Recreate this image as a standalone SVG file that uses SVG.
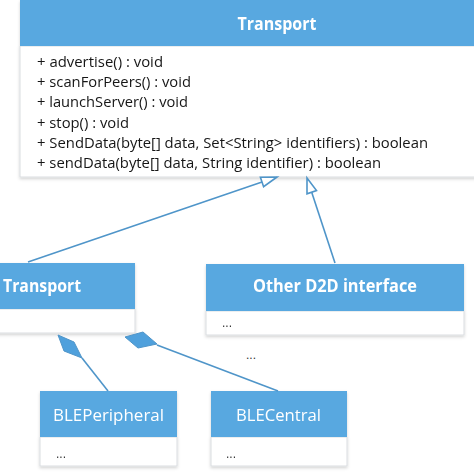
<svg xmlns="http://www.w3.org/2000/svg" width="474" height="474" viewBox="0 0 474 474">
<defs>
<filter id="sh" x="-5%" y="-5%" width="110%" height="115%">
<feDropShadow dx="0" dy="1.5" stdDeviation="1.5" flood-color="#000" flood-opacity="0.18"/>
</filter>
</defs>
<style>
.hdr{fill:#58A8E0}
.body{fill:#fff;stroke:#DADDE0;stroke-width:1}
.ttl{font-family:"Open Sans","Liberation Sans",Arial,sans-serif;font-weight:bold;font-size:17px;fill:#fff}
.ttl2{font-family:"Open Sans","Liberation Sans",Arial,sans-serif;font-size:17px;fill:#fff}
.m{font-family:"Open Sans","Liberation Sans",Arial,sans-serif;font-weight:500;font-size:14px;fill:#161616}
.dots{font-family:"Liberation Sans",Arial,sans-serif;font-size:12px;fill:#333}
.ln{stroke:#4F95C9;stroke-width:1.6;fill:none}
.tri{fill:#fff;stroke:#4F95C9;stroke-width:1.6}
.dia{fill:#4FA0DC;stroke:#4F95C9;stroke-width:1}
</style>
<rect width="474" height="474" fill="#fff"/>

<g id="transport-top" filter="url(#sh)">
<rect class="body" x="20" y="46" width="460" height="131"/>
<rect class="hdr" x="20" y="0" width="460" height="46"/>
<text class="ttl" x="277" y="30" text-anchor="middle" textLength="79" lengthAdjust="spacingAndGlyphs">Transport</text>
<text class="m" x="37" y="67" textLength="126" lengthAdjust="spacingAndGlyphs">+ advertise() : void</text>
<text class="m" x="37" y="87" textLength="154" lengthAdjust="spacingAndGlyphs">+ scanForPeers() : void</text>
<text class="m" x="37" y="107" textLength="151" lengthAdjust="spacingAndGlyphs">+ launchServer() : void</text>
<text class="m" x="37" y="128" textLength="92" lengthAdjust="spacingAndGlyphs">+ stop() : void</text>
<text class="m" x="37" y="148" textLength="391" lengthAdjust="spacingAndGlyphs">+ SendData(byte[] data, Set&lt;String&gt; identifiers) : boolean</text>
<text class="m" x="37" y="168" textLength="344" lengthAdjust="spacingAndGlyphs">+ sendData(byte[] data, String identifier) : boolean</text>
</g>

<g id="transport-left" filter="url(#sh)">
<rect class="body" x="-10" y="309" width="145" height="24"/>
<rect class="hdr" x="-10" y="263" width="145" height="46"/>
<text class="ttl" x="3" y="292" textLength="78" lengthAdjust="spacingAndGlyphs">Transport</text>
</g>

<g id="other-d2d" filter="url(#sh)">
<rect class="body" x="206" y="311" width="258" height="24"/>
<rect class="hdr" x="206" y="264" width="258" height="47"/>
<text class="ttl" x="335" y="292" text-anchor="middle" textLength="164" lengthAdjust="spacingAndGlyphs">Other D2D interface</text>
<text class="dots" x="222" y="327">...</text>
</g>

<g id="ble-peripheral" filter="url(#sh)">
<rect class="body" x="40" y="437" width="137" height="29"/>
<rect class="hdr" x="40" y="391" width="137" height="46"/>
<text class="ttl2" x="108.5" y="421" text-anchor="middle" textLength="111" lengthAdjust="spacingAndGlyphs">BLEPeripheral</text>
<text class="dots" x="56" y="458">...</text>
</g>

<g id="ble-central" filter="url(#sh)">
<rect class="body" x="211" y="437" width="136" height="29"/>
<rect class="hdr" x="211" y="391" width="136" height="46"/>
<text class="ttl2" x="278.5" y="421" text-anchor="middle" textLength="85" lengthAdjust="spacingAndGlyphs">BLECentral</text>
<text class="dots" x="226" y="458">...</text>
</g>

<text id="more" class="dots" x="246" y="359">...</text>

<g id="connectors">
<line class="ln" x1="28" y1="262" x2="262" y2="182"/>
<polygon class="tri" points="277,177 263.6,186.7 260.4,177.3"/>
<line class="ln" x1="335" y1="263" x2="311.7" y2="192.2"/>
<polygon class="tri" points="307,178 316.5,190.6 307,193.8"/>
<line class="ln" x1="82" y1="358" x2="108" y2="391"/>
<polygon class="dia" points="58,335 74,342 82,358 64,351"/>
<line class="ln" x1="157" y1="345" x2="278" y2="391"/>
<polygon class="dia" points="125,337 143,332 157,344 138,348"/>
</g>
</svg>
